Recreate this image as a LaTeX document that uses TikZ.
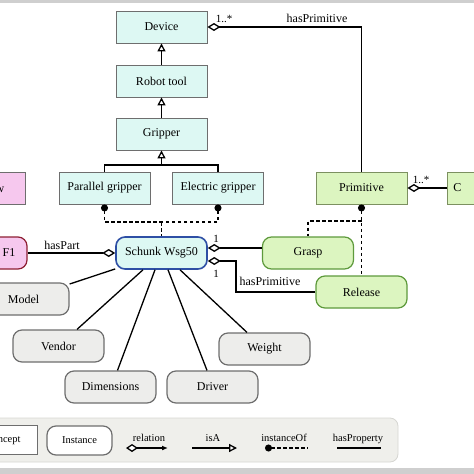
\documentclass[tikz,border=0pt]{standalone}
\usepackage{fontspec}
\setmainfont{Liberation Serif}
\usetikzlibrary{arrows.meta}
\definecolor{cyanfill}{HTML}{DDF8F3}
\definecolor{conceptdraw}{HTML}{6E6E6E}
\definecolor{schblue}{HTML}{2E4FA5}
\definecolor{pinkfill}{HTML}{F6C8EE}
\definecolor{fonered}{HTML}{8E1F33}
\definecolor{greenfill}{HTML}{DCF5C0}
\definecolor{primdraw}{HTML}{7C9060}
\definecolor{instgreen}{HTML}{5E9A3C}
\definecolor{grayfill}{HTML}{EDEDEB}
\definecolor{graydraw}{HTML}{6E6E6E}
\definecolor{legfill}{HTML}{EFEFEB}
\definecolor{legdraw}{HTML}{D6D6D2}
\definecolor{barcol}{HTML}{CFCFCF}

\begin{document}
\begin{tikzpicture}[
    x=1pt, y=-1pt,
    concept/.style={rectangle, draw=conceptdraw, line width=0.9pt, fill=cyanfill,
      minimum width=91pt, minimum height=32pt, inner sep=2pt,
      font=\fontsize{12}{14}\selectfont},
    instance/.style={concept, rounded corners=9pt, line width=1.2pt},
    property/.style={instance, fill=grayfill, draw=graydraw},
    rel/.style={line width=1.3pt, -{Diamond[fill=white, length=13pt, width=8pt]}},
    isa/.style={line width=1.3pt, -{Triangle[fill=white, length=8pt, width=8pt]}},
    dashline/.style={line width=1.3pt, dash pattern=on 3.5pt off 2.5pt},
    inst/.style={dashline, {Circle[length=7pt]}-},
    prop/.style={line width=1.3pt},
    lab/.style={font=\fontsize{12}{14}\selectfont, inner sep=0pt, anchor=base},
    card/.style={font=\fontsize{11}{13}\selectfont, inner sep=0pt, anchor=base},
    legfont/.style={font=\fontsize{10.5}{12}\selectfont},
  ]
    \useasboundingbox (0,0) rectangle (474,474);
    \clip (0,0) rectangle (474,474);
    % frame bars
    \fill[barcol] (0,0) rectangle (474,2.5);
    \fill[barcol] (0,468) rectangle (474,474);
    % concepts
    \node[concept] (dev)  at (161.5,27)  {Device};
    \node[concept] (tool) at (161.5,81)  {Robot tool};
    \node[concept] (grip) at (161.5,134) {Gripper};
    \node[concept] (par)  at (104.5,188) {Parallel gripper};
    \node[concept] (ele)  at (218,188)   {Electric gripper};
    \node[concept, fill=pinkfill] (wf) at (-20,188) {Workflow};
    \node[concept, fill=greenfill, draw=primdraw] (prim) at (361.5,188) {Primitive};
    \node[concept, fill=greenfill, draw=primdraw, minimum width=0pt, inner xsep=6pt,
          text width=40pt, align=left, anchor=west] (cstr) at (447,188) {C};
    % instances
    \node[instance, draw=schblue, line width=1.6pt] (sch) at (161.5,253) {Schunk Wsg50};
    \node[instance, fill=pinkfill, draw=fonered, minimum width=36pt] (fone) at (9,253) {F1};
    \node[instance, fill=greenfill, draw=instgreen] (grasp)   at (308,253)   {Grasp};
    \node[instance, fill=greenfill, draw=instgreen] (release) at (361.5,292) {Release};
    % properties
    \node[property] (model)  at (23.5,299)  {Model};
    \node[property] (vendor) at (58.5,346)  {Vendor};
    \node[property] (weight) at (264.5,349) {Weight};
    \node[property] (dims)   at (110.5,387) {Dimensions};
    \node[property] (driver) at (212.5,387) {Driver};
    % isA
    \draw[isa] (tool.north) -- (dev.south);
    \draw[isa] (grip.north) -- (tool.south);
    \coordinate (gj) at (161.5,165);
    \draw[prop] (par.north) |- (gj) -| (ele.north);
    \draw[isa] (gj) -- (grip.south);
    % relations
    \draw[rel] (prim.north) |- (dev.east);
    \node[card] at (224,22) {1..*};
    \node[lab]  at (317,22) {hasPrimitive};
    \draw[rel] (cstr.west) -- (prim.east);
    \node[card] at (421,183) {1..*};
    \draw[rel] (fone.east) -- (sch.west);
    \node[lab] at (62,249) {hasPart};
    \draw[rel] ([yshift=5pt]grasp.west) -- ([yshift=5pt]sch.east);
    \node[card] at (216,242) {1};
    \coordinate (rk) at (236,292);
    \draw[rel] (release.west) -- (rk) |- ([yshift=-8pt]sch.east);
    \node[card] at (216,277) {1};
    \node[lab]  at (270,285) {hasPrimitive};
    % instanceOf
    \coordinate (ij) at (161.5,222);
    \draw[inst] (par.south) |- (ij);
    \draw[inst] (ele.south) |- (ij);
    \draw[dashline] (ij) -- (sch.north);
    \draw[inst] (prim.south) -- (release.north);
    \coordinate (pj) at (361.5,221);
    \draw[dashline] (pj) -| (grasp.north);
    % hasProperty
    \draw[prop] (sch.199) -- (model.18);
    \draw[prop] ([xshift=-18.5pt]sch.south) -- ([xshift=18.5pt]vendor.north);
    \draw[prop] ([xshift=-6.5pt]sch.south)  -- ([xshift=7pt]dims.north);
    \draw[prop] ([xshift=6.5pt]sch.south)   -- ([xshift=-5.5pt]driver.north);
    \draw[prop] ([xshift=18.5pt]sch.south)  -- ([xshift=-17.5pt]weight.north);
    % legend
    \draw[rounded corners=8pt, fill=legfill, draw=legdraw, line width=0.8pt]
      (-40,418) rectangle (398,462);
    \node[concept, fill=white, minimum width=68pt, minimum height=29pt, legfont]
      (lcon) at (3,440) {Concept};
    \node[instance, fill=white, draw=graydraw, minimum width=65pt, minimum height=29pt, legfont]
      (linst) at (79.5,440.5) {Instance};
    \node[lab, legfont] at (149,441) {relation};
    \node[lab, legfont] at (213,441) {isA};
    \node[lab, legfont] at (284,441) {instanceOf};
    \node[lab, legfont] at (358,441) {hasProperty};
    \coordinate (relA) at (126,448);  \coordinate (relB) at (168,448);
    \coordinate (isaA) at (192,448);  \coordinate (isaB) at (237,448);
    \coordinate (insA) at (265,448);  \coordinate (insB) at (308,448);
    \coordinate (prpA) at (337,448);  \coordinate (prpB) at (381,448);
    \draw[line width=1.3pt, {Diamond[fill=white, length=12pt, width=8pt]}-{Latex[length=6pt, width=5pt]}]
      (relA) -- (relB);
    \draw[isa] (isaA) -- (isaB);
    \draw[inst] (insA) -- (insB);
    \draw[prop] (prpA) -- (prpB);
  \end{tikzpicture}
\end{document}
